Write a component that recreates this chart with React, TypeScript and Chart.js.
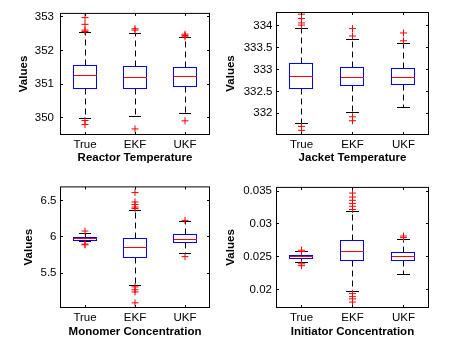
import React, { useEffect, useRef } from "react";
import { Chart, registerables } from "chart.js";

Chart.register(...registerables);

// ---------- data ----------
const categories = ["True", "EKF", "UKF"];

// Reactor Temperature
const reactorTicks = [350, 351, 352, 353];
const reactorQ1 = [350.88, 350.88, 350.93];
const reactorMedian = [351.25, 351.2, 351.23];
const reactorQ3 = [351.56, 351.53, 351.5];
const reactorLow = [349.97, 350.05, 350.13];
const reactorHigh = [352.52, 352.49, 352.37];
const reactorOutliers = [
  [352.56, 352.6, 352.77, 352.97, 349.92, 349.8],
  [352.6, 352.64, 349.67],
  [352.4, 352.44, 352.48, 349.91],
];

// Jacket Temperature
const jacketTicks = [332, 332.5, 333, 333.5, 334];
const jacketQ1 = [332.57, 332.64, 332.66];
const jacketMedian = [332.85, 332.83, 332.83];
const jacketQ3 = [333.14, 333.05, 333.03];
const jacketLow = [331.77, 332.02, 332.13];
const jacketHigh = [333.94, 333.69, 333.6];
const jacketOutliers = [
  [334.02, 334.07, 334.17, 334.27, 331.7, 331.61],
  [333.77, 333.94, 331.92, 331.83],
  [333.66, 333.84],
];

// Monomer Concentration
const monomerTicks = [5.5, 6, 6.5];
const monomerQ1 = [5.948, 5.718, 5.918];
const monomerMedian = [5.975, 5.85, 5.968];
const monomerQ3 = [5.995, 5.982, 6.027];
const monomerLow = [5.935, 5.332, 5.764];
const monomerHigh = [6.045, 6.364, 6.205];
const monomerOutliers = [
  [6.08, 5.9, 5.89],
  [6.39, 6.41, 6.445, 6.48, 6.61, 5.31, 5.27, 5.24, 5.09],
  [6.227, 5.727],
];

// Initiator Concentration
const initiatorTicks = [0.02, 0.025, 0.03, 0.035];
const initiatorQ1 = [0.02471, 0.02437, 0.02437];
const initiatorMedian = [0.025, 0.02583, 0.025];
const initiatorQ3 = [0.02524, 0.02743, 0.02563];
const initiatorLow = [0.02417, 0.01976, 0.02233];
const initiatorHigh = [0.02573, 0.03194, 0.02757];
const initiatorOutliers = [
  [0.0258, 0.026, 0.02393, 0.02364],
  [0.0322, 0.0327, 0.0331, 0.0336, 0.0341, 0.0347, 0.01942, 0.01893, 0.01859, 0.0181],
  [0.02791, 0.02816],
];

// ---------- layout / style ----------
const FONT = "'Liberation Sans', Arial, Helvetica, sans-serif";

type Panel = {
  title: string;
  ticks: number[];
  q1: number[];
  med: number[];
  q3: number[];
  lo: number[];
  hi: number[];
  out: number[][];
  yMin: number;
  yMax: number;
  canvas: { left: number; top: number; width: number; height: number };
  area: { left: number; top: number; right: number; bottom: number };
  yTitleX: number;
  yTickPad: number;
  xTitlePad: number;
};

const panels: Panel[] = [
  {
    title: "Reactor Temperature",
    ticks: reactorTicks,
    q1: reactorQ1, med: reactorMedian, q3: reactorQ3, lo: reactorLow, hi: reactorHigh, out: reactorOutliers,
    yMin: 349.49, yMax: 353.11,
    canvas: { left: 0, top: 0, width: 215, height: 176 },
    area: { left: 60, top: 12, right: 213, bottom: 135 },
    yTitleX: 24, yTickPad: 6, xTitlePad: 11,
  },
  {
    title: "Jacket Temperature",
    ticks: jacketTicks,
    q1: jacketQ1, med: jacketMedian, q3: jacketQ3, lo: jacketLow, hi: jacketHigh, out: jacketOutliers,
    yMin: 331.503, yMax: 334.32,
    canvas: { left: 215, top: 0, width: 259, height: 176 },
    area: { left: 276, top: 12, right: 429, bottom: 135 },
    yTitleX: 231, yTickPad: 3.5, xTitlePad: 11,
  },
  {
    title: "Monomer Concentration",
    ticks: monomerTicks,
    q1: monomerQ1, med: monomerMedian, q3: monomerQ3, lo: monomerLow, hi: monomerHigh, out: monomerOutliers,
    yMin: 5.019, yMax: 6.695,
    canvas: { left: 0, top: 176, width: 215, height: 177 },
    area: { left: 60, top: 185, right: 213, bottom: 308 },
    yTitleX: 28.5, yTickPad: 3.5, xTitlePad: 14,
  },
  {
    title: "Initiator Concentration",
    ticks: initiatorTicks,
    q1: initiatorQ1, med: initiatorMedian, q3: initiatorQ3, lo: initiatorLow, hi: initiatorHigh, out: initiatorOutliers,
    yMin: 0.0172, yMax: 0.03564,
    canvas: { left: 215, top: 176, width: 259, height: 177 },
    area: { left: 276, top: 185, right: 429, bottom: 308 },
    yTitleX: 231, yTickPad: 4, xTitlePad: 14,
  },
];

const BOX_HALF = 0.23;
const CAP_HALF = 0.125;
const TICK_LEN = 2.5;

const crisp = (v: number) => Math.round(v - 0.5) + 0.5;

function makeBoxPlugin(p: Panel) {
  return {
    id: "boxes",
    beforeDatasetsDraw(chart: any) {
      const ctx: CanvasRenderingContext2D = chart.ctx;
      const xs = chart.scales.x;
      const ys = chart.scales.y;
      ctx.save();
      ctx.lineWidth = 1;
      for (let i = 0; i < categories.length; i++) {
        const cx = crisp(xs.getPixelForValue(i + 1));
        const bl = xs.getPixelForValue(i + 1 - BOX_HALF);
        const br = xs.getPixelForValue(i + 1 + BOX_HALF);
        const cl = xs.getPixelForValue(i + 1 - CAP_HALF);
        const cr = xs.getPixelForValue(i + 1 + CAP_HALF);
        const yq1 = crisp(ys.getPixelForValue(p.q1[i]));
        const yq3 = crisp(ys.getPixelForValue(p.q3[i]));
        const ymed = crisp(ys.getPixelForValue(p.med[i]));
        const ylo = crisp(ys.getPixelForValue(p.lo[i]));
        const yhi = crisp(ys.getPixelForValue(p.hi[i]));
        // whiskers (dashed)
        ctx.strokeStyle = "#000";
        ctx.setLineDash([6, 4]);
        ctx.beginPath();
        ctx.moveTo(cx, yq3);
        ctx.lineTo(cx, yhi);
        ctx.moveTo(cx, yq1);
        ctx.lineTo(cx, ylo);
        ctx.stroke();
        ctx.setLineDash([]);
        // caps
        ctx.beginPath();
        ctx.moveTo(Math.round(cl), yhi);
        ctx.lineTo(Math.round(cr), yhi);
        ctx.moveTo(Math.round(cl), ylo);
        ctx.lineTo(Math.round(cr), ylo);
        ctx.stroke();
        // box
        ctx.strokeStyle = "#0000ff";
        ctx.strokeRect(crisp(bl), yq3, Math.round(br - bl), yq1 - yq3);
        // median
        ctx.strokeStyle = "#ff0000";
        ctx.beginPath();
        ctx.moveTo(Math.round(bl), ymed);
        ctx.lineTo(Math.round(br), ymed);
        ctx.stroke();
      }
      ctx.restore();
    },
    afterDraw(chart: any) {
      const ctx: CanvasRenderingContext2D = chart.ctx;
      const a = chart.chartArea;
      const xs = chart.scales.x;
      const ys = chart.scales.y;
      const l = a.left + 0.5, r = a.right - 0.5, t = a.top + 0.5, b = a.bottom - 0.5;
      ctx.save();
      ctx.strokeStyle = "#000";
      ctx.lineWidth = 1;
      ctx.strokeRect(l, t, r - l, b - t);
      ctx.beginPath();
      for (const v of p.ticks) {
        const y = crisp(ys.getPixelForValue(v));
        ctx.moveTo(l, y);
        ctx.lineTo(l + TICK_LEN, y);
        ctx.moveTo(r, y);
        ctx.lineTo(r - TICK_LEN, y);
      }
      for (let i = 0; i < categories.length; i++) {
        const x = crisp(xs.getPixelForValue(i + 1));
        ctx.moveTo(x, b);
        ctx.lineTo(x, b - TICK_LEN);
        ctx.moveTo(x, t);
        ctx.lineTo(x, t + TICK_LEN);
      }
      ctx.stroke();
      ctx.restore();
    },
  };
}

function BoxPanel({ p }: { p: Panel }) {
  const ref = useRef<HTMLCanvasElement | null>(null);
  useEffect(() => {
    if (!ref.current) return;
    const c = p.canvas;
    const a = p.area;
    const outliers = p.out.flatMap((arr, i) => arr.map((v) => ({ x: i + 1, y: v })));
    const chart = new Chart(ref.current, {
      type: "scatter",
      data: {
        datasets: [
          {
            data: outliers,
            pointStyle: "cross",
            radius: 3.5,
            borderColor: "#ff0000",
            backgroundColor: "#ff0000",
            borderWidth: 1,
          },
        ],
      },
      options: {
        animation: false,
        responsive: false,
        maintainAspectRatio: false,
        devicePixelRatio: 1,
        events: [],
        layout: {
          padding: {
            left: 0,
            bottom: 0,
            top: a.top - c.top,
            right: c.left + c.width - a.right,
          },
        },
        plugins: { legend: { display: false }, tooltip: { enabled: false } },
        scales: {
          x: {
            type: "linear",
            min: 0.5,
            max: 3.5,
            afterBuildTicks: (s: any) => {
              s.ticks = categories.map((_, i) => ({ value: i + 1 }));
            },
            afterFit: (s: any) => {
              s.height = c.top + c.height - a.bottom;
            },
            grid: { display: false, drawTicks: false, tickLength: 0 },
            border: { display: false },
            ticks: {
              autoSkip: false,
              maxRotation: 0,
              padding: 2.5,
              color: "#000",
              font: { family: FONT, size: 11.5 },
              callback: (v: any) => categories[Math.round(Number(v)) - 1],
            },
            title: {
              display: true,
              text: p.title,
              color: "#000",
              font: { family: FONT, size: 11.5, weight: "bold", lineHeight: 1.2 },
              padding: { top: 0, bottom: p.xTitlePad },
            },
          },
          y: {
            type: "linear",
            min: p.yMin,
            max: p.yMax,
            afterBuildTicks: (s: any) => {
              s.ticks = p.ticks.map((v) => ({ value: v }));
            },
            afterFit: (s: any) => {
              s.width = a.left - c.left;
            },
            grid: { display: false, drawTicks: false, tickLength: 0 },
            border: { display: false },
            ticks: {
              padding: p.yTickPad,
              color: "#000",
              font: { family: FONT, size: 11.5 },
              callback: (v: any) => String(v),
            },
            title: {
              display: true,
              text: "Values",
              color: "#000",
              font: { family: FONT, size: 11.5, weight: "bold", lineHeight: 1.2 },
              padding: { top: p.yTitleX - c.left - 6.9, bottom: 0 },
            },
          },
        },
      } as any,
      plugins: [makeBoxPlugin(p)],
    });
    return () => chart.destroy();
  }, [p]);
  return (
    <canvas
      ref={ref}
      width={p.canvas.width}
      height={p.canvas.height}
      style={{
        position: "absolute",
        left: p.canvas.left,
        top: p.canvas.top,
        width: p.canvas.width,
        height: p.canvas.height,
      }}
    />
  );
}

export default function App() {
  return (
    <div
      style={{
        position: "fixed",
        left: 0,
        top: 0,
        width: 474,
        height: 353,
        background: "#fff",
        overflow: "hidden",
      }}
    >
      {panels.map((p, i) => (
        <BoxPanel key={i} p={p} />
      ))}
    </div>
  );
}
